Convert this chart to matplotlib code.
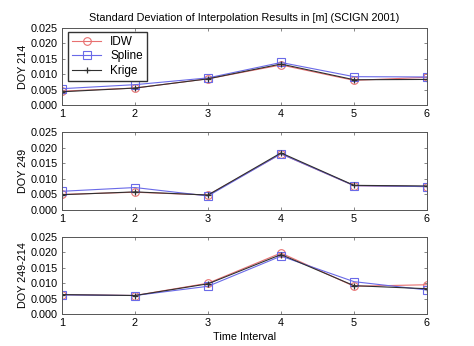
import matplotlib.pyplot as plt
import numpy as np

plt.rcParams['font.family'] = ['Liberation Sans', 'DejaVu Sans']
plt.rcParams['font.size'] = 7.8

t = [1, 2, 3, 4, 5, 6]

idw_214 = [0.0045, 0.0055, 0.0085, 0.0130, 0.0080, 0.0090]
spl_214 = [0.0053, 0.0066, 0.0088, 0.0138, 0.0092, 0.0091]
kri_214 = [0.0043, 0.0055, 0.0085, 0.0133, 0.0082, 0.0083]

idw_249 = [0.0050, 0.0057, 0.0048, 0.0180, 0.0078, 0.0075]
spl_249 = [0.0060, 0.0072, 0.0045, 0.0180, 0.0078, 0.0075]
kri_249 = [0.0049, 0.0058, 0.0048, 0.0183, 0.0079, 0.0077]

idw_d = [0.0063, 0.0060, 0.0100, 0.0198, 0.0090, 0.0095]
spl_d = [0.0062, 0.0060, 0.0090, 0.0188, 0.0105, 0.0078]
kri_d = [0.0063, 0.0060, 0.0098, 0.0193, 0.0092, 0.0082]

panels = [('DOY 214', idw_214, spl_214, kri_214),
          ('DOY 249', idw_249, spl_249, kri_249),
          ('DOY 249-214', idw_d, spl_d, kri_d)]

fig = plt.figure(figsize=(4.74, 3.46), dpi=100)
W, H = 474, 346
tops = [28, 132, 237]
bots = [105, 210, 314]
left, right = 62, 427

for i, (lab, a, b, c) in enumerate(panels):
    ax = fig.add_axes([left / W, 1 - bots[i] / H, (right - left) / W, (bots[i] - tops[i]) / H])
    ax.plot(t, a, color='#e87070', marker='o', mfc='none', ms=5.5, mew=0.8, lw=0.8, label='IDW')
    ax.plot(t, b, color='#6a6ae8', marker='s', mfc='none', ms=5.5, mew=0.8, lw=0.8, label='Spline')
    ax.plot(t, c, color='#303030', marker='+', ms=4, mew=0.9, lw=0.8, label='Krige')
    ax.set_xlim(1, 6)
    ax.set_ylim(0, 0.025)
    ax.set_xticks(t)
    ax.set_yticks(np.arange(0, 0.0251, 0.005))
    ax.yaxis.set_major_formatter(plt.FormatStrFormatter('%.3f'))
    ax.tick_params(direction='in', length=2.5, width=0.5, color='#555555',
                   top=True, right=True, labelsize=7.8, pad=3)
    for s in ax.spines.values():
        s.set_linewidth(0.7)
        s.set_color('#555555')
    ax.set_ylabel(lab, fontsize=7.8, labelpad=2)
    if i == 0:
        ax.set_title('Standard Deviation of Interpolation Results in [m] (SCIGN 2001)', fontsize=7.8, pad=5)
        ax.legend(loc='upper left', fontsize=8.5, fancybox=False, edgecolor='#333333',
                  framealpha=1, handlelength=2.4, borderpad=0.35, labelspacing=0.2,
                  bbox_to_anchor=(0.017, 0.95), borderaxespad=0)
    if i == 2:
        ax.set_xlabel('Time Interval', fontsize=7.8, labelpad=3)

fig.savefig('out.png', dpi=100)
